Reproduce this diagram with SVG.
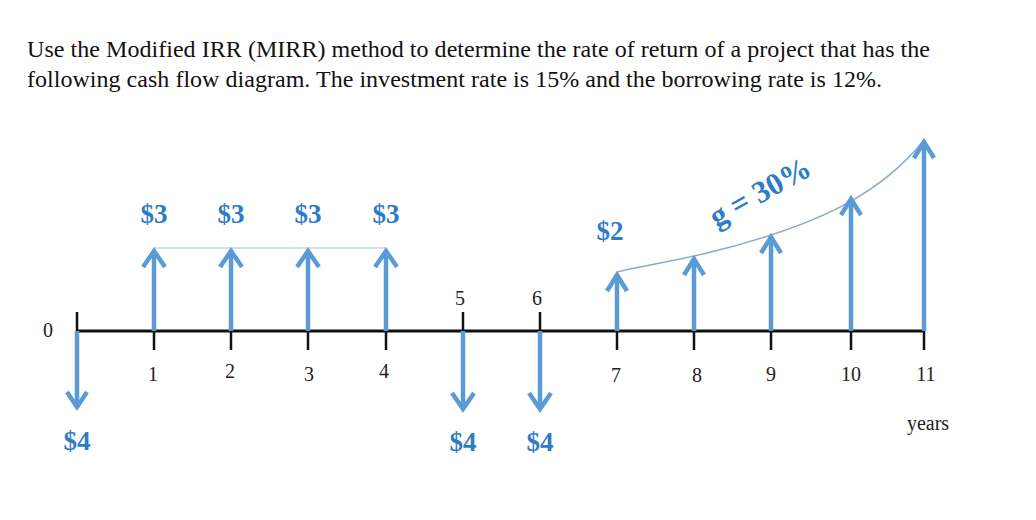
<svg xmlns="http://www.w3.org/2000/svg" width="1036" height="520" viewBox="0 0 1036 520">
<style>
.title{font-family:"Liberation Serif","Times New Roman",serif;font-size:24px;fill:#111}
.num{font-family:"Liberation Serif","Times New Roman",serif;font-size:20px;fill:#222;text-anchor:middle}
.amt{font-family:"Liberation Serif","Times New Roman",serif;font-size:27px;font-weight:bold;fill:#2F7BC4;text-anchor:middle}
.gr{font-family:"Liberation Serif","Times New Roman",serif;font-size:31px;font-weight:bold;fill:#2F7BC4;text-anchor:middle}
.shaft{stroke:#5B9BD5;stroke-width:4.5;fill:none}
.head{stroke:#5B9BD5;stroke-width:4.5;fill:none;stroke-linejoin:miter;stroke-linecap:butt}
.axis{stroke:#111;stroke-width:3;fill:none}
.tick{stroke:#111;stroke-width:2.5;fill:none}
</style>
<rect width="1036" height="520" fill="#fff"/>
<g id="title">
<text class="title" x="27" y="57" textLength="903" lengthAdjust="spacing">Use the Modified IRR (MIRR) method to determine the rate of return of a project that has the</text>
<text class="title" x="27" y="87" textLength="855" lengthAdjust="spacing">following cash flow diagram. The investment rate is 15% and the borrowing rate is 12%.</text>
</g>
<g id="connectors">
<line class="axis" x1="77" y1="331" x2="925" y2="331"/>
<path class="tick" d="M77 312V331 M154 331V350 M231 331V350 M308 331V350 M386 331V350 M463 312V331 M540 312V331 M617 331V350 M694 331V350 M771 331V350 M851 331V350 M924 312V350"/>
<line x1="154" y1="248" x2="386" y2="248" stroke="#BDD7EE" stroke-width="1.5"/>
<path d="M617 272 C660 262 700 258 771 235 C820 219 880 195 924 140" stroke="#8EAACB" stroke-width="1.6" fill="none"/>
</g>
<g id="labels-axis">
<text class="num" x="48" y="337">0</text>
<text class="num" x="153" y="381">1</text>
<text class="num" x="230" y="378">2</text>
<text class="num" x="309" y="381">3</text>
<text class="num" x="384" y="378">4</text>
<text class="num" x="460" y="305">5</text>
<text class="num" x="537" y="305">6</text>
<text class="num" x="616" y="382">7</text>
<text class="num" x="697" y="382">8</text>
<text class="num" x="771" y="381">9</text>
<text class="num" x="851" y="381">10</text>
<text class="num" x="926" y="381">11</text>
<text class="num" x="928" y="430">years</text>
</g>
<g id="cf0">
<line class="shaft" x1="77" y1="331" x2="77" y2="406"/>
<path class="head" d="M67 392L77 407L87 392"/>
<text class="amt" x="77" y="450">$4</text>
</g>
<g id="cf1">
<line class="shaft" x1="154" y1="331" x2="154" y2="252"/>
<path class="head" d="M143 267L154 251L165 267"/>
<text class="amt" x="154" y="223">$3</text>
</g>
<g id="cf2">
<line class="shaft" x1="231" y1="331" x2="231" y2="252"/>
<path class="head" d="M220 267L231 251L242 267"/>
<text class="amt" x="231" y="223">$3</text>
</g>
<g id="cf3">
<line class="shaft" x1="308" y1="331" x2="308" y2="252"/>
<path class="head" d="M297 267L308 251L319 267"/>
<text class="amt" x="308" y="223">$3</text>
</g>
<g id="cf4">
<line class="shaft" x1="386" y1="331" x2="386" y2="252"/>
<path class="head" d="M375 267L386 251L397 267"/>
<text class="amt" x="386" y="223">$3</text>
</g>
<g id="cf5">
<line class="shaft" x1="463" y1="331" x2="463" y2="408"/>
<path class="head" d="M452 393L463 409L474 393"/>
<text class="amt" x="463" y="451">$4</text>
</g>
<g id="cf6">
<line class="shaft" x1="540" y1="331" x2="540" y2="408"/>
<path class="head" d="M529 393L540 409L551 393"/>
<text class="amt" x="540" y="451">$4</text>
</g>
<g id="cf7">
<line class="shaft" x1="617" y1="331" x2="617" y2="276"/>
<path class="head" d="M607 291L617 275L627 291"/>
<text class="amt" x="610" y="240">$2</text>
</g>
<g id="cf8">
<line class="shaft" x1="694" y1="331" x2="694" y2="260"/>
<path class="head" d="M684 275L694 259L704 275"/>
</g>
<g id="cf9">
<line class="shaft" x1="771" y1="331" x2="771" y2="238"/>
<path class="head" d="M761 253L771 237L781 253"/>
</g>
<g id="cf10">
<line class="shaft" x1="851" y1="331" x2="851" y2="200"/>
<path class="head" d="M841 215L851 199L861 215"/>
</g>
<g id="cf11">
<line class="shaft" x1="924" y1="331" x2="924" y2="143"/>
<path class="head" d="M914 158L924 142L934 158"/>
</g>
<g id="growth">
<text class="gr" x="0" y="0" transform="translate(765 201) rotate(-29)">g = 30%</text>
</g>
</svg>
